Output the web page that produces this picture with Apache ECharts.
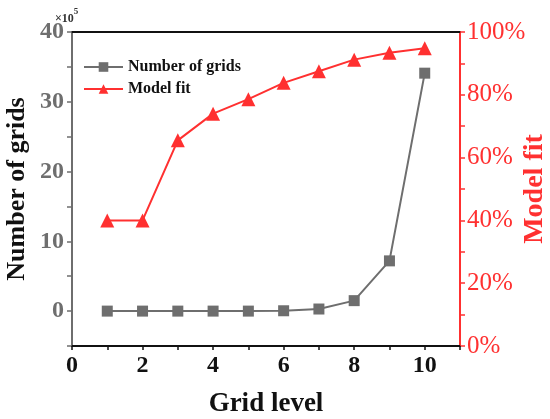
<!DOCTYPE html>
<html><head><meta charset="utf-8">
<script src="https://cdn.jsdelivr.net/npm/echarts@6/dist/echarts.min.js"></script>
<style>html,body{margin:0;padding:0;background:#fff}#c{width:550px;height:419px}</style>
</head><body><div id="c"></div>
<script>
const levels = [1,2,3,4,5,6,7,8,9,10];
const gridCounts = [0, 0, 0, 0, 0, 0.05, 0.3, 1.5, 7.2, 34.1]; // ×10^5
const modelFit = [40, 40, 65.5, 74, 78.6, 83.8, 87.5, 91.2, 93.4, 94.8]; // %
const leftTicks = [0, 10, 20, 30, 40];
const rightTicks = [0, 20, 40, 60, 80, 100];
const xTicks = [0, 2, 4, 6, 8, 10];

const serif = '"Liberation Serif", "DejaVu Serif", serif';
const gray = '#6e6e6e';
const red = '#ff3030';
const chart = echarts.init(document.getElementById('c'));
chart.setOption({
  animation: false,
  grid: {left: 72, right: 90, top: 32, bottom: 73, containLabel: false, outerBoundsMode: 'none'},
  title: {
    text: '{a|×10}{b|5}', left: 50, top: 2,
    textStyle: {rich: {a: {fontFamily: serif, fontSize: 12, color: '#333', padding:[6,0,0,0]}, b: {fontFamily: serif, fontSize: 9, color: '#333', verticalAlign:'top'}}}
  },
  legend: {
    left: 83, top: 59, padding: 0, orient: 'vertical', itemGap: 6, itemWidth: 39, itemHeight: 12,
    textStyle: {fontFamily: serif, fontWeight: 'bold', fontSize: 16, color: '#111'},
    data: ['Number of grids', 'Model fit']
  },
  xAxis: [{
    type: 'value', min: 0, max: 11, interval: 1,
    name: 'Grid level', nameLocation: 'middle', nameGap: 45, nameMoveOverlap: false,
    nameTextStyle: {fontFamily: serif, fontWeight: 'bold', fontSize: 27, color: '#111'},
    axisLine: {onZero: false, lineStyle: {color: '#111', width: 2}},
    axisTick: {show: true, length: 4, lineStyle: {color: '#111', width: 1.5}},
    splitLine: {show: false},
    axisLabel: {fontFamily: serif, fontWeight: 'bold', fontSize: 24, color: '#111', margin: 8,
      formatter: v => xTicks.includes(v) ? String(v) : ''}
  }, {
    type: 'value', min: 0, max: 11, position: 'top',
    axisLine: {show: true, onZero: false, lineStyle: {color: '#111', width: 2}},
    axisTick: {show: false}, axisLabel: {show: false}, splitLine: {show: false}
  }],
  yAxis: [{
    type: 'value', min: -5, max: 40, interval: 5, position: 'left',
    name: 'Number of grids', nameLocation: 'middle', nameGap: 42, nameRotate: 90, nameMoveOverlap: false,
    nameTextStyle: {fontFamily: serif, fontWeight: 'bold', fontSize: 26, color: '#111'},
    axisLine: {show: true, onZero: false, lineStyle: {color: gray, width: 2}},
    axisTick: {show: true, length: 5, lineStyle: {color: gray, width: 1.5}},
    splitLine: {show: false},
    axisLabel: {fontFamily: serif, fontWeight: 'bold', fontSize: 24, color: gray, margin: 8,
      formatter: v => leftTicks.includes(v) ? String(v) : ''}
  }, {
    type: 'value', min: 0, max: 100, interval: 10, position: 'right',
    name: 'Model fit', nameLocation: 'middle', nameGap: 61, nameRotate: 90, nameMoveOverlap: false,
    nameTextStyle: {fontFamily: serif, fontWeight: 'bold', fontSize: 28, color: red},
    axisLine: {show: true, onZero: false, lineStyle: {color: red, width: 2}},
    axisTick: {show: true, length: 5, lineStyle: {color: red, width: 1.5}},
    splitLine: {show: false},
    axisLabel: {fontFamily: serif, fontSize: 25, color: red, margin: 7,
      formatter: v => rightTicks.includes(v) ? v + '%' : ''}
  }],
  series: [{
    name: 'Number of grids', type: 'line', xAxisIndex: 0, yAxisIndex: 0,
    data: levels.map((l, i) => [l, gridCounts[i]]),
    symbol: 'rect', symbolSize: 11,
    lineStyle: {color: gray, width: 2}, itemStyle: {color: gray}
  }, {
    name: 'Model fit', type: 'line', xAxisIndex: 0, yAxisIndex: 1,
    data: levels.map((l, i) => [l, modelFit[i]]),
    symbol: 'triangle', symbolSize: 14,
    lineStyle: {color: red, width: 2}, itemStyle: {color: red}
  }]
});
</script></body></html>
